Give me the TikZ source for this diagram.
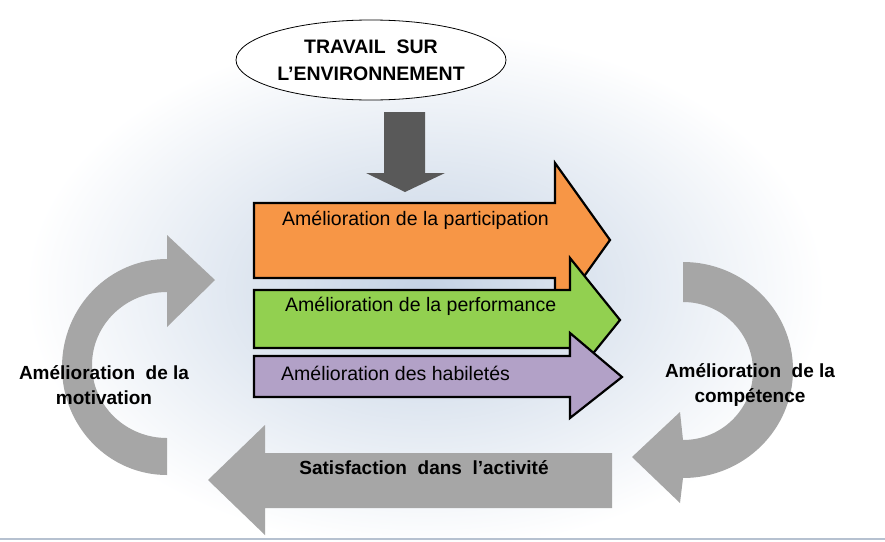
\documentclass[tikz,border=0pt]{standalone}
\usepackage{fontspec}
\setmainfont{Liberation Sans}
\usetikzlibrary{shapes.geometric}
\definecolor{garrow}{RGB}{166,166,166}
\definecolor{darrow}{RGB}{89,89,89}
\definecolor{orangec}{RGB}{247,150,70}
\definecolor{greenc}{RGB}{146,208,80}
\definecolor{purplec}{RGB}{178,161,199}
\definecolor{glow}{RGB}{196,210,228}
\tikzset{
 colarrow/.style={draw=black,line width=2.2pt,line join=miter},
 grayarrow/.style={fill=garrow,draw=none},
 lbl/.style={font=\fontsize{19.5}{22}\selectfont,text=black},
 blbl/.style={font=\bfseries\fontsize{19}{25}\selectfont,align=center,text=black}
}
\begin{document}
\begin{tikzpicture}[x=1pt,y=-1pt]
\useasboundingbox (0,0) rectangle (885,541);
\fill[white] (0,0) rectangle (885,541);
\shade[inner color=glow,outer color=white] (425,290) ellipse [x radius=400,y radius=260];
\draw[color=glow!80!gray,line width=1.5pt] (0,539) -- (885,539);
% left curved arrow
\fill[grayarrow] (167,475) arc[start angle=90,end angle=270,x radius=105,y radius=108] -- (167,235) -- (215,280) -- (167,327) -- (167,292) arc[start angle=270,end angle=90,x radius=75,y radius=73] -- cycle;
% right curved arrow
\fill[grayarrow] (683,262) arc[start angle=270,end angle=450,x radius=110,y radius=108] -- (680,503) -- (632,457) -- (680,412) -- (683,440) arc[start angle=90,end angle=-90,x radius=70,y radius=69] -- cycle;
% bottom arrow
\fill[grayarrow] (612,453) -- (265,453) -- (265,425) -- (208,480) -- (265,535) -- (265,508) -- (612,508) -- cycle;
% down arrow
\fill[darrow] (384,112) -- (425,112) -- (425,173) -- (445,173) -- (405,192) -- (366,173) -- (384,173) -- cycle;
% ellipse
\node[ellipse,draw=black,fill=white,minimum width=270pt,minimum height=80pt,line width=0.8pt] (env) at (371,60) {};
\node[blbl,font=\bfseries\fontsize{19.5}{27}\selectfont] at (env) {TRAVAIL\ \ SUR\\L’ENVIRONNEMENT};
% colored arrows
\draw[colarrow,fill=orangec] (254,203) -- (555,203) -- (555,163) -- (610,240) -- (555,317) -- (555,278) -- (254,278) -- cycle;
\draw[colarrow,fill=greenc] (254,290) -- (570,290) -- (570,258) -- (620,320) -- (570,382) -- (570,348) -- (254,348) -- cycle;
\draw[colarrow,fill=purplec] (254,356) -- (570,356) -- (570,333) -- (622,377) -- (570,418) -- (570,397) -- (254,397) -- cycle;
\node[lbl,anchor=west,inner sep=0pt] (p1) at (282,220) {Amélioration de la participation};
\node[lbl,anchor=west,inner sep=0pt] (p2) at (285,306) {Amélioration de la performance};
\node[lbl,anchor=west,inner sep=0pt] (p3) at (281,373) {Amélioration des habiletés};
\node[blbl] (mot) at (104,385) {Amélioration\ \ de la\\motivation};
\node[blbl] (comp) at (750,385) {Amélioration\ \ de la\\compétence};
\node[blbl] (sat) at (424,468) {Satisfaction\ \ dans\ \ l’activité};
\end{tikzpicture}
\end{document}
